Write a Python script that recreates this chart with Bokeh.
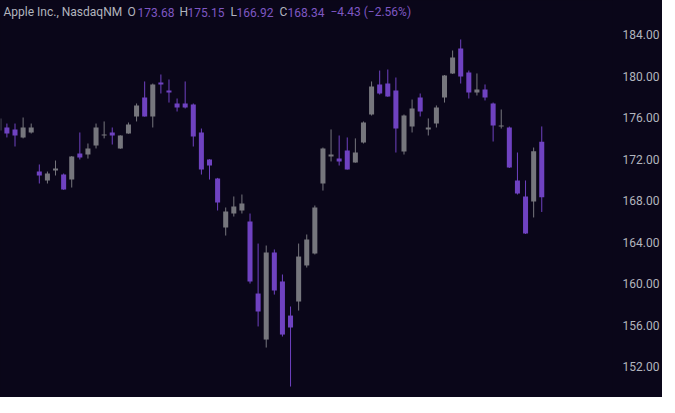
from bokeh.plotting import figure
from bokeh.models import Range1d, FixedTicker, PrintfTickFormatter, Label, ColumnDataSource
from bokeh.embed import file_html
from bokeh.resources import INLINE

# ---- data ----
opens = [174.76, 175.05, 174.86, 174.09, 174.57, 170.81, 169.95, 170.91, 170.52, 170.04,
         172.55, 172.45, 173.32, 174.28, 174.57, 173.03, 174.47, 176.11, 177.94, 176.11,
         179.38, 178.61, 177.36, 177.36, 177.26, 174.57, 171.97, 170.14, 165.42, 166.77,
         167.06, 166.00, 159.07, 154.64, 163.02, 160.23, 156.95, 158.30, 161.77, 162.92,
         169.66, 172.26, 172.06, 172.83, 171.68, 173.60, 176.30, 179.19, 179.28, 178.61,
         172.74, 175.14, 177.94, 174.86, 175.43, 177.94, 180.25, 182.65, 180.34, 178.42,
         178.71, 177.36, 175.14, 175.05, 169.95, 168.41, 167.93, 173.68]
highs = [176.49, 175.43, 175.43, 176.01, 175.43, 171.49, 170.81, 171.87, 170.62, 172.30,
         174.57, 173.51, 175.43, 175.63, 175.05, 174.30, 175.53, 177.36, 179.48, 179.28,
         180.15, 179.67, 177.84, 179.48, 177.36, 174.95, 172.00, 170.20, 167.35, 168.41,
         168.60, 166.77, 163.88, 163.69, 163.31, 160.90, 157.82, 163.88, 164.75, 167.54,
         173.12, 174.86, 174.28, 174.09, 174.00, 175.63, 179.48, 180.53, 180.63, 179.86,
         176.30, 177.74, 178.32, 175.92, 177.17, 180.10, 182.46, 183.52, 180.53, 180.25,
         179.19, 177.45, 176.78, 175.14, 172.64, 169.95, 173.12, 175.15]
lows = [174.60, 174.09, 173.22, 174.00, 174.47, 169.66, 169.66, 170.43, 169.05, 169.27,
        171.97, 172.06, 173.03, 174.00, 173.41, 173.00, 174.45, 175.63, 176.10, 175.05,
        178.32, 177.45, 176.59, 176.88, 173.22, 170.52, 170.04, 167.06, 164.65, 166.48,
        166.77, 160.03, 155.90, 153.87, 158.97, 154.93, 150.12, 157.43, 161.57, 162.83,
        168.98, 171.78, 171.39, 171.00, 171.66, 173.51, 176.20, 178.22, 178.00, 172.64,
        172.45, 174.57, 176.11, 174.28, 175.05, 177.45, 180.20, 179.28, 177.84, 178.13,
        177.65, 173.70, 174.95, 171.15, 168.60, 164.80, 166.39, 166.92]
closes = [175.92, 174.47, 174.28, 175.05, 175.05, 170.43, 170.62, 171.10, 169.08, 172.26,
          172.16, 173.03, 175.05, 174.38, 174.28, 174.28, 175.34, 177.17, 176.11, 179.19,
          179.19, 178.42, 176.97, 176.97, 174.18, 171.01, 171.39, 167.83, 166.96, 167.44,
          167.73, 160.23, 157.34, 163.02, 159.36, 155.12, 155.80, 162.63, 164.27, 167.35,
          173.03, 172.45, 171.78, 171.01, 172.64, 175.53, 179.00, 178.32, 178.03, 174.95,
          176.20, 176.88, 176.59, 175.05, 176.97, 180.05, 181.79, 179.96, 178.42, 178.71,
          177.94, 175.24, 175.24, 171.20, 168.70, 164.85, 172.77, 168.34]
y_ticks = [148, 152, 156, 160, 164, 168, 172, 176, 180, 184]
symbol = "Apple Inc., NasdaqNM"

BG = "#0a0619"
UP = "#76767d"
DOWN = "#6f42c1"
TXT = "#b2b5be"
VAL = "#7e57c2"

idx = list(range(len(opens)))
colors = [UP if c >= o else DOWN for o, c in zip(opens, closes)]
src = ColumnDataSource(dict(
    x=idx, o=opens, h=highs, l=lows, c=closes,
    top=[max(o, c) for o, c in zip(opens, closes)],
    bot=[min(o, c) for o, c in zip(opens, closes)],
    col=colors))

p = figure(frame_width=612, frame_height=397, output_backend="svg", toolbar_location=None,
           x_axis_location=None, y_axis_location="right",
           x_range=Range1d(0.2098, 75.73), y_range=Range1d(149.063, 187.272),
           min_border=0, min_border_left=0, min_border_right=0, min_border_top=0, min_border_bottom=0)
p.background_fill_color = BG
p.border_fill_color = None
p.styles = {"background-color": BG}
p.outline_line_color = None
p.grid.visible = False

p.segment(x0="x", x1="x", y0="l", y1="h", line_color="col", line_width=1, source=src)
p.vbar(x="x", width=0.62, top="top", bottom="bot", fill_color="col", line_color=None, source=src)

ax = p.yaxis[0]
ax.ticker = FixedTicker(ticks=y_ticks)
ax.formatter = PrintfTickFormatter(format="%.2f")
ax.axis_line_color = None
ax.major_tick_line_color = None
ax.minor_tick_line_color = None
ax.major_tick_out = 0
ax.major_tick_in = 0
ax.major_label_standoff = 10
ax.major_label_text_color = TXT
ax.major_label_text_font = "Roboto"
ax.major_label_text_font_size = "12px"

chg = closes[-1] - closes[-2]
pct = chg / closes[-2] * 100
def fmt(v):
    return ("−" if v < 0 else "+") + f"{abs(v):.2f}"
pieces = [
    (symbol, 3, TXT),
    ("O", 127, TXT), (f"{opens[-1]:.2f}", 137, VAL),
    ("H", 179, TXT), (f"{highs[-1]:.2f}", 187, VAL),
    ("L", 230, TXT), (f"{lows[-1]:.2f}", 236, VAL),
    ("C", 279, TXT), (f"{closes[-1]:.2f}", 287, VAL),
    (f"{fmt(chg)} ({fmt(pct)}%)", 330, VAL),
]
for txt, sx, col in pieces:
    p.add_layout(Label(x=sx, y=385.5, x_units="screen", y_units="screen", text=txt,
                       text_color=col, text_font="Roboto", text_font_size="12px",
                       text_baseline="middle", text_align="left"))

open("out.html", "w").write(file_html(p, INLINE))
